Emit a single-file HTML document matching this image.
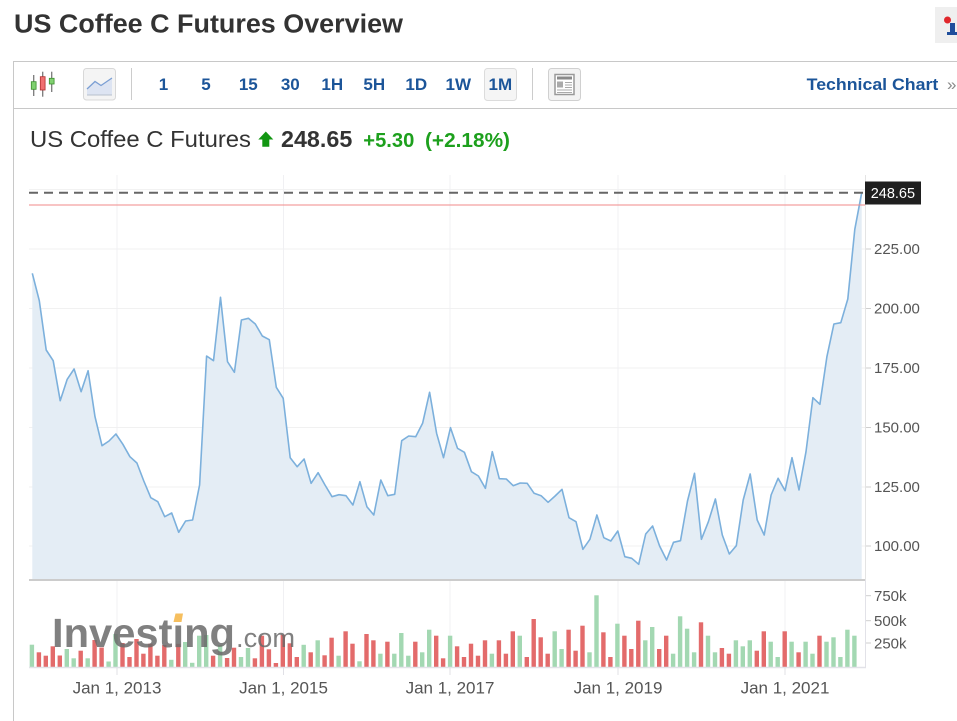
<!DOCTYPE html>
<html>
<head>
<meta charset="utf-8">
<style>
  html,body{margin:0;padding:0;background:#fff;}
  body{width:957px;height:721px;overflow:hidden;}
  svg{display:block;font-family:"Liberation Sans",Arial,sans-serif;}
</style>
</head>
<body>
<svg width="957" height="721" viewBox="0 0 957 721" xmlns="http://www.w3.org/2000/svg">
  <rect x="0" y="0" width="957" height="721" fill="#fff"/>

  <text x="14" y="32.5" font-size="25.5" font-weight="bold" fill="#333" textLength="389" lengthAdjust="spacingAndGlyphs">US Coffee C Futures Overview</text>

  <rect x="935" y="7" width="22" height="36" fill="#efefef"/>
  <circle cx="947.5" cy="20" r="3.5" fill="#e0262b"/>
  <rect x="950" y="23" width="5" height="11" fill="#1f4e9c"/>
  <rect x="947" y="32" width="10" height="3" fill="#1f4e9c"/>

  <line x1="13.5" y1="61" x2="13.5" y2="721" stroke="#c8c8c8"/>
  <line x1="13" y1="61.5" x2="957" y2="61.5" stroke="#c8c8c8"/>
  <line x1="13" y1="108.5" x2="957" y2="108.5" stroke="#c8c8c8"/>

  <line x1="33.7" y1="75" x2="33.7" y2="96" stroke="#7a7a7a" stroke-width="1.3"/>
  <rect x="31.3" y="81.7" width="4.8" height="7.6" fill="#80d070" stroke="#3b8f2e" stroke-width="0.8"/>
  <line x1="42.7" y1="71.7" x2="42.7" y2="96.7" stroke="#7a7a7a" stroke-width="1.3"/>
  <rect x="40.3" y="76.7" width="4.8" height="13.3" fill="#f07070" stroke="#b03030" stroke-width="0.8"/>
  <line x1="51.7" y1="71.7" x2="51.7" y2="92" stroke="#7a7a7a" stroke-width="1.3"/>
  <rect x="49.3" y="78.3" width="4.8" height="5.7" fill="#80d070" stroke="#3b8f2e" stroke-width="0.8"/>

  <rect x="83.5" y="68.5" width="32" height="31.5" rx="3" fill="#f4f4f4" stroke="#d8d8d8"/>
  <polygon points="87,89 95,81.5 101,85.5 112,78 112,95 87,95" fill="#dde4f2"/>
  <polyline points="87,89 95,81.5 101,85.5 112,78" fill="none" stroke="#7b9fd4" stroke-width="1.3"/>
  <line x1="87" y1="95" x2="112" y2="95" stroke="#b8bfcc"/>

  <line x1="131.5" y1="68" x2="131.5" y2="100" stroke="#ccc"/>
  <rect x="484.5" y="68.5" width="32" height="32" rx="3" fill="#f5f5f5" stroke="#dcdcdc"/>

  <g font-size="17" font-weight="bold" fill="#1c5599" text-anchor="middle">
    <text x="163.5" y="90">1</text>
    <text x="206" y="90">5</text>
    <text x="248.3" y="90">15</text>
    <text x="290.3" y="90">30</text>
    <text x="332.3" y="90">1H</text>
    <text x="374.3" y="90">5H</text>
    <text x="416.3" y="90">1D</text>
    <text x="458.3" y="90">1W</text>
    <text x="500.3" y="90">1M</text>
  </g>

  <line x1="532.5" y1="68" x2="532.5" y2="100" stroke="#ccc"/>
  <rect x="548.5" y="68.5" width="32" height="32" rx="3" fill="#f3f3f3" stroke="#d0d0d0"/>
  <rect x="555" y="74.5" width="19" height="20" fill="#fff" stroke="#999" stroke-width="1.5"/>
  <rect x="557" y="76.5" width="15" height="3" fill="#8a8a8a"/>
  <rect x="557" y="81.5" width="6" height="6" fill="#aaa"/>
  <g stroke="#aaa">
    <line x1="565" y1="82.5" x2="572" y2="82.5"/>
    <line x1="565" y1="85" x2="572" y2="85"/>
    <line x1="565" y1="87.5" x2="572" y2="87.5"/>
    <line x1="557" y1="90" x2="572" y2="90"/>
    <line x1="557" y1="92.5" x2="572" y2="92.5"/>
  </g>

  <text x="806.7" y="90" font-size="17" font-weight="bold" fill="#1c5599" textLength="131.6" lengthAdjust="spacingAndGlyphs">Technical Chart</text>
  <text x="947" y="90" font-size="17" fill="#8a8a8a">»</text>

  <text x="30" y="147" font-size="23" fill="#333" textLength="221" lengthAdjust="spacingAndGlyphs">US Coffee C Futures</text>
  <polygon points="265.8,131.5 258.3,139.5 262.3,139.5 262.3,146.7 269.3,146.7 269.3,139.5 273.3,139.5" fill="#129612"/>
  <text x="281" y="147" font-size="23" font-weight="bold" fill="#333" textLength="71.3" lengthAdjust="spacingAndGlyphs">248.65</text>
  <text x="363.3" y="147" font-size="20" font-weight="bold" fill="#1da01d" textLength="51" lengthAdjust="spacingAndGlyphs">+5.30</text>
  <text x="425" y="147" font-size="20" font-weight="bold" fill="#1da01d" textLength="85" lengthAdjust="spacingAndGlyphs">(+2.18%)</text>

  <g stroke="#f1f1f1">
    <line x1="29" y1="189.6" x2="865" y2="189.6"/>
    <line x1="29" y1="249" x2="865" y2="249"/>
    <line x1="29" y1="308.5" x2="865" y2="308.5"/>
    <line x1="29" y1="368" x2="865" y2="368"/>
    <line x1="29" y1="427.5" x2="865" y2="427.5"/>
    <line x1="29" y1="487" x2="865" y2="487"/>
    <line x1="29" y1="546" x2="865" y2="546"/>
  </g>
  <g stroke="#f0f0f3">
    <line x1="117" y1="175" x2="117" y2="667"/>
    <line x1="283.5" y1="175" x2="283.5" y2="667"/>
    <line x1="450" y1="175" x2="450" y2="667"/>
    <line x1="618" y1="175" x2="618" y2="667"/>
    <line x1="785" y1="175" x2="785" y2="667"/>
  </g>

  <path d="M32.3,273.3 L39.3,300.7 L46.2,350 L53.2,360.7 L60.2,400.7 L67.2,379.3 L74.1,369 L81.1,391.7 L88.1,370.7 L95,416.7 L102,445.7 L109,441 L115.9,434 L122.9,444.3 L129.9,456.7 L136.9,463 L143.8,481 L150.8,497.7 L157.8,501.7 L164.7,516.7 L171.7,513 L178.7,532.3 L185.6,521 L192.6,520 L199.6,485 L206.6,356 L213.5,360.7 L220.5,297.3 L227.5,361.7 L234.4,372.3 L241.4,320 L248.4,318.3 L255.3,324 L262.3,336 L269.3,339.7 L276.3,387.3 L283.2,398.3 L290.2,457.7 L297.2,466.7 L304.1,459 L311.1,483.3 L318.1,472.7 L325,485 L332,496.7 L339,494.7 L346,495.7 L352.9,505 L359.9,481.7 L366.9,506.7 L373.8,515 L380.8,480 L387.8,495.7 L394.7,494.3 L401.7,440.7 L408.7,436 L415.7,436.7 L422.6,423.3 L429.6,392.3 L436.6,433.3 L443.5,457.7 L450.5,427.7 L457.5,448.3 L464.4,452.3 L471.4,471.7 L478.4,476 L485.4,488.3 L492.3,451.7 L499.3,478.7 L506.3,479 L513.2,485.7 L520.2,483 L527.2,483.3 L534.1,493.3 L541.1,495.7 L548.1,502.3 L555.1,496 L562,489.3 L569,517.7 L576,521.7 L582.9,549.3 L589.9,539.3 L596.9,515 L603.8,537.7 L610.8,541 L617.8,531 L624.8,556.7 L631.7,558.3 L638.7,564.3 L645.7,534 L652.6,526 L659.6,546 L666.6,560 L673.5,542.3 L680.5,540.7 L687.5,501 L694.5,473.3 L701.4,539.3 L708.4,521.7 L715.4,499 L722.3,535 L729.3,554 L736.3,545.7 L743.2,500 L750.2,474 L757.2,520 L764.2,535 L771.1,495 L778.1,478.3 L785.1,490.7 L792,457.7 L799,490 L806,451.7 L812.9,397.7 L819.9,404.3 L826.9,356.7 L833.9,324 L840.8,322.7 L847.8,299 L854.8,229.3 L861.7,192.7 L861.7,580 L32.3,580 Z" fill="#e4edf5"/>
  <path d="M32.3,273.3 L39.3,300.7 L46.2,350 L53.2,360.7 L60.2,400.7 L67.2,379.3 L74.1,369 L81.1,391.7 L88.1,370.7 L95,416.7 L102,445.7 L109,441 L115.9,434 L122.9,444.3 L129.9,456.7 L136.9,463 L143.8,481 L150.8,497.7 L157.8,501.7 L164.7,516.7 L171.7,513 L178.7,532.3 L185.6,521 L192.6,520 L199.6,485 L206.6,356 L213.5,360.7 L220.5,297.3 L227.5,361.7 L234.4,372.3 L241.4,320 L248.4,318.3 L255.3,324 L262.3,336 L269.3,339.7 L276.3,387.3 L283.2,398.3 L290.2,457.7 L297.2,466.7 L304.1,459 L311.1,483.3 L318.1,472.7 L325,485 L332,496.7 L339,494.7 L346,495.7 L352.9,505 L359.9,481.7 L366.9,506.7 L373.8,515 L380.8,480 L387.8,495.7 L394.7,494.3 L401.7,440.7 L408.7,436 L415.7,436.7 L422.6,423.3 L429.6,392.3 L436.6,433.3 L443.5,457.7 L450.5,427.7 L457.5,448.3 L464.4,452.3 L471.4,471.7 L478.4,476 L485.4,488.3 L492.3,451.7 L499.3,478.7 L506.3,479 L513.2,485.7 L520.2,483 L527.2,483.3 L534.1,493.3 L541.1,495.7 L548.1,502.3 L555.1,496 L562,489.3 L569,517.7 L576,521.7 L582.9,549.3 L589.9,539.3 L596.9,515 L603.8,537.7 L610.8,541 L617.8,531 L624.8,556.7 L631.7,558.3 L638.7,564.3 L645.7,534 L652.6,526 L659.6,546 L666.6,560 L673.5,542.3 L680.5,540.7 L687.5,501 L694.5,473.3 L701.4,539.3 L708.4,521.7 L715.4,499 L722.3,535 L729.3,554 L736.3,545.7 L743.2,500 L750.2,474 L757.2,520 L764.2,535 L771.1,495 L778.1,478.3 L785.1,490.7 L792,457.7 L799,490 L806,451.7 L812.9,397.7 L819.9,404.3 L826.9,356.7 L833.9,324 L840.8,322.7 L847.8,299 L854.8,229.3 L861.7,192.7" fill="none" stroke="#7cb0dc" stroke-width="1.6" stroke-linejoin="round"/>

  <line x1="29" y1="205" x2="865" y2="205" stroke="#f08a8a"/>
  <line x1="29" y1="192.7" x2="865" y2="192.7" stroke="#666" stroke-width="2" stroke-dasharray="9,6"/>

  <line x1="865.5" y1="175" x2="865.5" y2="580" stroke="#e4e4e4"/>
  <line x1="29" y1="580" x2="865" y2="580" stroke="#ccc" stroke-width="2"/>

  <g stroke="#cfcfcf">
    <line x1="866" y1="249" x2="871" y2="249"/>
    <line x1="866" y1="308.5" x2="871" y2="308.5"/>
    <line x1="866" y1="368" x2="871" y2="368"/>
    <line x1="866" y1="427.5" x2="871" y2="427.5"/>
    <line x1="866" y1="487" x2="871" y2="487"/>
    <line x1="866" y1="546" x2="871" y2="546"/>
  </g>
  <g font-size="15" fill="#555">
    <text x="874" y="254">225.00</text>
    <text x="874" y="313.5">200.00</text>
    <text x="874" y="373">175.00</text>
    <text x="874" y="432.5">150.00</text>
    <text x="874" y="492">125.00</text>
    <text x="874" y="551">100.00</text>
  </g>

  <rect x="865" y="181.5" width="56" height="23" fill="#1f1f1f"/>
  <text x="870.7" y="198.2" font-size="14.5" fill="#fff">248.65</text>

  <g fill="#a3d8b2">
    <rect x="29.7" y="644.7" width="4.4" height="22.3"/>
    <rect x="64.6" y="649" width="4.4" height="18"/>
    <rect x="71.5" y="658.3" width="4.4" height="8.7"/>
    <rect x="85.5" y="658.3" width="4.4" height="8.7"/>
    <rect x="106.4" y="661.5" width="4.4" height="5.5"/>
    <rect x="113.3" y="634" width="4.4" height="33"/>
    <rect x="169.1" y="659.8" width="4.4" height="7.2"/>
    <rect x="183" y="642" width="4.4" height="25"/>
    <rect x="190" y="662.8" width="4.4" height="4.2"/>
    <rect x="197" y="635.7" width="4.4" height="31.3"/>
    <rect x="204" y="635" width="4.4" height="32"/>
    <rect x="217.9" y="645" width="4.4" height="22"/>
    <rect x="238.8" y="657" width="4.4" height="10"/>
    <rect x="245.8" y="648" width="4.4" height="19"/>
    <rect x="301.5" y="644.8" width="4.4" height="22.2"/>
    <rect x="315.5" y="640.3" width="4.4" height="26.7"/>
    <rect x="336.4" y="655.7" width="4.4" height="11.3"/>
    <rect x="357.3" y="661.3" width="4.4" height="5.7"/>
    <rect x="378.2" y="653.7" width="4.4" height="13.3"/>
    <rect x="392.1" y="653.7" width="4.4" height="13.3"/>
    <rect x="399.1" y="633" width="4.4" height="34"/>
    <rect x="406.1" y="655.7" width="4.4" height="11.3"/>
    <rect x="420" y="652.3" width="4.4" height="14.7"/>
    <rect x="427" y="629.7" width="4.4" height="37.3"/>
    <rect x="447.9" y="635.7" width="4.4" height="31.3"/>
    <rect x="489.7" y="653.7" width="4.4" height="13.3"/>
    <rect x="517.6" y="635.7" width="4.4" height="31.3"/>
    <rect x="552.5" y="631.3" width="4.4" height="35.7"/>
    <rect x="559.4" y="649" width="4.4" height="18"/>
    <rect x="587.3" y="652.3" width="4.4" height="14.7"/>
    <rect x="594.3" y="595.3" width="4.4" height="71.7"/>
    <rect x="615.2" y="623.7" width="4.4" height="43.3"/>
    <rect x="643.1" y="640.3" width="4.4" height="26.7"/>
    <rect x="650" y="627" width="4.4" height="40"/>
    <rect x="670.9" y="653.7" width="4.4" height="13.3"/>
    <rect x="677.9" y="616.3" width="4.4" height="50.7"/>
    <rect x="684.9" y="628.7" width="4.4" height="38.3"/>
    <rect x="691.9" y="652.3" width="4.4" height="14.7"/>
    <rect x="705.8" y="635.7" width="4.4" height="31.3"/>
    <rect x="712.8" y="652.3" width="4.4" height="14.7"/>
    <rect x="733.7" y="640.3" width="4.4" height="26.7"/>
    <rect x="740.6" y="646.3" width="4.4" height="20.7"/>
    <rect x="747.6" y="640.3" width="4.4" height="26.7"/>
    <rect x="768.5" y="641.7" width="4.4" height="25.3"/>
    <rect x="775.5" y="657" width="4.4" height="10"/>
    <rect x="789.4" y="641.7" width="4.4" height="25.3"/>
    <rect x="803.4" y="641.7" width="4.4" height="25.3"/>
    <rect x="810.3" y="653.7" width="4.4" height="13.3"/>
    <rect x="824.3" y="641.7" width="4.4" height="25.3"/>
    <rect x="831.3" y="637.3" width="4.4" height="29.7"/>
    <rect x="838.2" y="657" width="4.4" height="10"/>
    <rect x="845.2" y="629.7" width="4.4" height="37.3"/>
    <rect x="852.2" y="635.7" width="4.4" height="31.3"/>
  </g>
  <g fill="#e36b6b">
    <rect x="36.7" y="652.3" width="4.4" height="14.7"/>
    <rect x="43.6" y="655.7" width="4.4" height="11.3"/>
    <rect x="50.6" y="646.3" width="4.4" height="20.7"/>
    <rect x="57.6" y="655.5" width="4.4" height="11.5"/>
    <rect x="78.5" y="650.7" width="4.4" height="16.3"/>
    <rect x="92.4" y="640" width="4.4" height="27"/>
    <rect x="99.4" y="647.5" width="4.4" height="19.5"/>
    <rect x="120.3" y="643" width="4.4" height="24"/>
    <rect x="127.3" y="657" width="4.4" height="10"/>
    <rect x="134.3" y="639" width="4.4" height="28"/>
    <rect x="141.2" y="653.7" width="4.4" height="13.3"/>
    <rect x="148.2" y="643.7" width="4.4" height="23.3"/>
    <rect x="155.2" y="655.7" width="4.4" height="11.3"/>
    <rect x="162.1" y="645" width="4.4" height="22"/>
    <rect x="176.1" y="643.8" width="4.4" height="23.2"/>
    <rect x="210.9" y="655.7" width="4.4" height="11.3"/>
    <rect x="224.9" y="658" width="4.4" height="9"/>
    <rect x="231.8" y="647.7" width="4.4" height="19.3"/>
    <rect x="252.7" y="658.3" width="4.4" height="8.7"/>
    <rect x="259.7" y="635.7" width="4.4" height="31.3"/>
    <rect x="266.7" y="649.3" width="4.4" height="17.7"/>
    <rect x="273.7" y="663" width="4.4" height="4"/>
    <rect x="280.6" y="634.7" width="4.4" height="32.3"/>
    <rect x="287.6" y="643.3" width="4.4" height="23.7"/>
    <rect x="294.6" y="657" width="4.4" height="10"/>
    <rect x="308.5" y="652.3" width="4.4" height="14.7"/>
    <rect x="322.4" y="655.3" width="4.4" height="11.7"/>
    <rect x="329.4" y="637.7" width="4.4" height="29.3"/>
    <rect x="343.4" y="631.3" width="4.4" height="35.7"/>
    <rect x="350.3" y="643.7" width="4.4" height="23.3"/>
    <rect x="364.3" y="634" width="4.4" height="33"/>
    <rect x="371.2" y="640.3" width="4.4" height="26.7"/>
    <rect x="385.2" y="641.7" width="4.4" height="25.3"/>
    <rect x="413.1" y="641.7" width="4.4" height="25.3"/>
    <rect x="434" y="635.7" width="4.4" height="31.3"/>
    <rect x="440.9" y="658.3" width="4.4" height="8.7"/>
    <rect x="454.9" y="646.3" width="4.4" height="20.7"/>
    <rect x="461.8" y="657" width="4.4" height="10"/>
    <rect x="468.8" y="643.7" width="4.4" height="23.3"/>
    <rect x="475.8" y="655.7" width="4.4" height="11.3"/>
    <rect x="482.8" y="640.3" width="4.4" height="26.7"/>
    <rect x="496.7" y="640.3" width="4.4" height="26.7"/>
    <rect x="503.7" y="653.7" width="4.4" height="13.3"/>
    <rect x="510.6" y="631.3" width="4.4" height="35.7"/>
    <rect x="524.6" y="657" width="4.4" height="10"/>
    <rect x="531.5" y="619" width="4.4" height="48"/>
    <rect x="538.5" y="637.3" width="4.4" height="29.7"/>
    <rect x="545.5" y="653.7" width="4.4" height="13.3"/>
    <rect x="566.4" y="629.7" width="4.4" height="37.3"/>
    <rect x="573.4" y="650.7" width="4.4" height="16.3"/>
    <rect x="580.3" y="625.7" width="4.4" height="41.3"/>
    <rect x="601.2" y="632.3" width="4.4" height="34.7"/>
    <rect x="608.2" y="657" width="4.4" height="10"/>
    <rect x="622.2" y="635.7" width="4.4" height="31.3"/>
    <rect x="629.1" y="649" width="4.4" height="18"/>
    <rect x="636.1" y="620.7" width="4.4" height="46.3"/>
    <rect x="657" y="649" width="4.4" height="18"/>
    <rect x="664" y="635.7" width="4.4" height="31.3"/>
    <rect x="698.8" y="622.3" width="4.4" height="44.7"/>
    <rect x="719.7" y="648" width="4.4" height="19"/>
    <rect x="726.7" y="653.7" width="4.4" height="13.3"/>
    <rect x="754.6" y="650.7" width="4.4" height="16.3"/>
    <rect x="761.6" y="631.3" width="4.4" height="35.7"/>
    <rect x="782.5" y="631.3" width="4.4" height="35.7"/>
    <rect x="796.4" y="652.3" width="4.4" height="14.7"/>
    <rect x="817.3" y="635.7" width="4.4" height="31.3"/>
  </g>

  <line x1="29" y1="667.5" x2="866" y2="667.5" stroke="#e2e2e8" stroke-width="1.5"/>
  <line x1="865.5" y1="580" x2="865.5" y2="668" stroke="#e2e2e8"/>
  <g stroke="#e0e0e6">
    <line x1="117" y1="667" x2="117" y2="675"/>
    <line x1="283.5" y1="667" x2="283.5" y2="675"/>
    <line x1="450" y1="667" x2="450" y2="675"/>
    <line x1="618" y1="667" x2="618" y2="675"/>
    <line x1="785" y1="667" x2="785" y2="675"/>
  </g>
  <g stroke="#cfcfcf">
    <line x1="866" y1="595.7" x2="871" y2="595.7"/>
    <line x1="866" y1="620.7" x2="871" y2="620.7"/>
    <line x1="866" y1="643" x2="871" y2="643"/>
  </g>
  <g font-size="15" fill="#555">
    <text x="874" y="600.8">750k</text>
    <text x="874" y="625.8">500k</text>
    <text x="874" y="648.3">250k</text>
  </g>

  <g opacity="0.85">
    <text x="52" y="647" font-size="41" font-weight="bold" fill="#6a6a6a" textLength="183" lengthAdjust="spacingAndGlyphs">Investing</text>
    <text x="236" y="647" font-size="27" fill="#6a6a6a" textLength="59" lengthAdjust="spacingAndGlyphs">.com</text>
    <polygon points="175.5,613.5 183,613.5 181.5,622 173.5,622" fill="#f5b544"/>
  </g>

  <g font-size="17" fill="#555" text-anchor="middle">
    <text x="117" y="693.3">Jan 1, 2013</text>
    <text x="283.5" y="693.3">Jan 1, 2015</text>
    <text x="450" y="693.3">Jan 1, 2017</text>
    <text x="618" y="693.3">Jan 1, 2019</text>
    <text x="785" y="693.3">Jan 1, 2021</text>
  </g>
</svg>
</body>
</html>
